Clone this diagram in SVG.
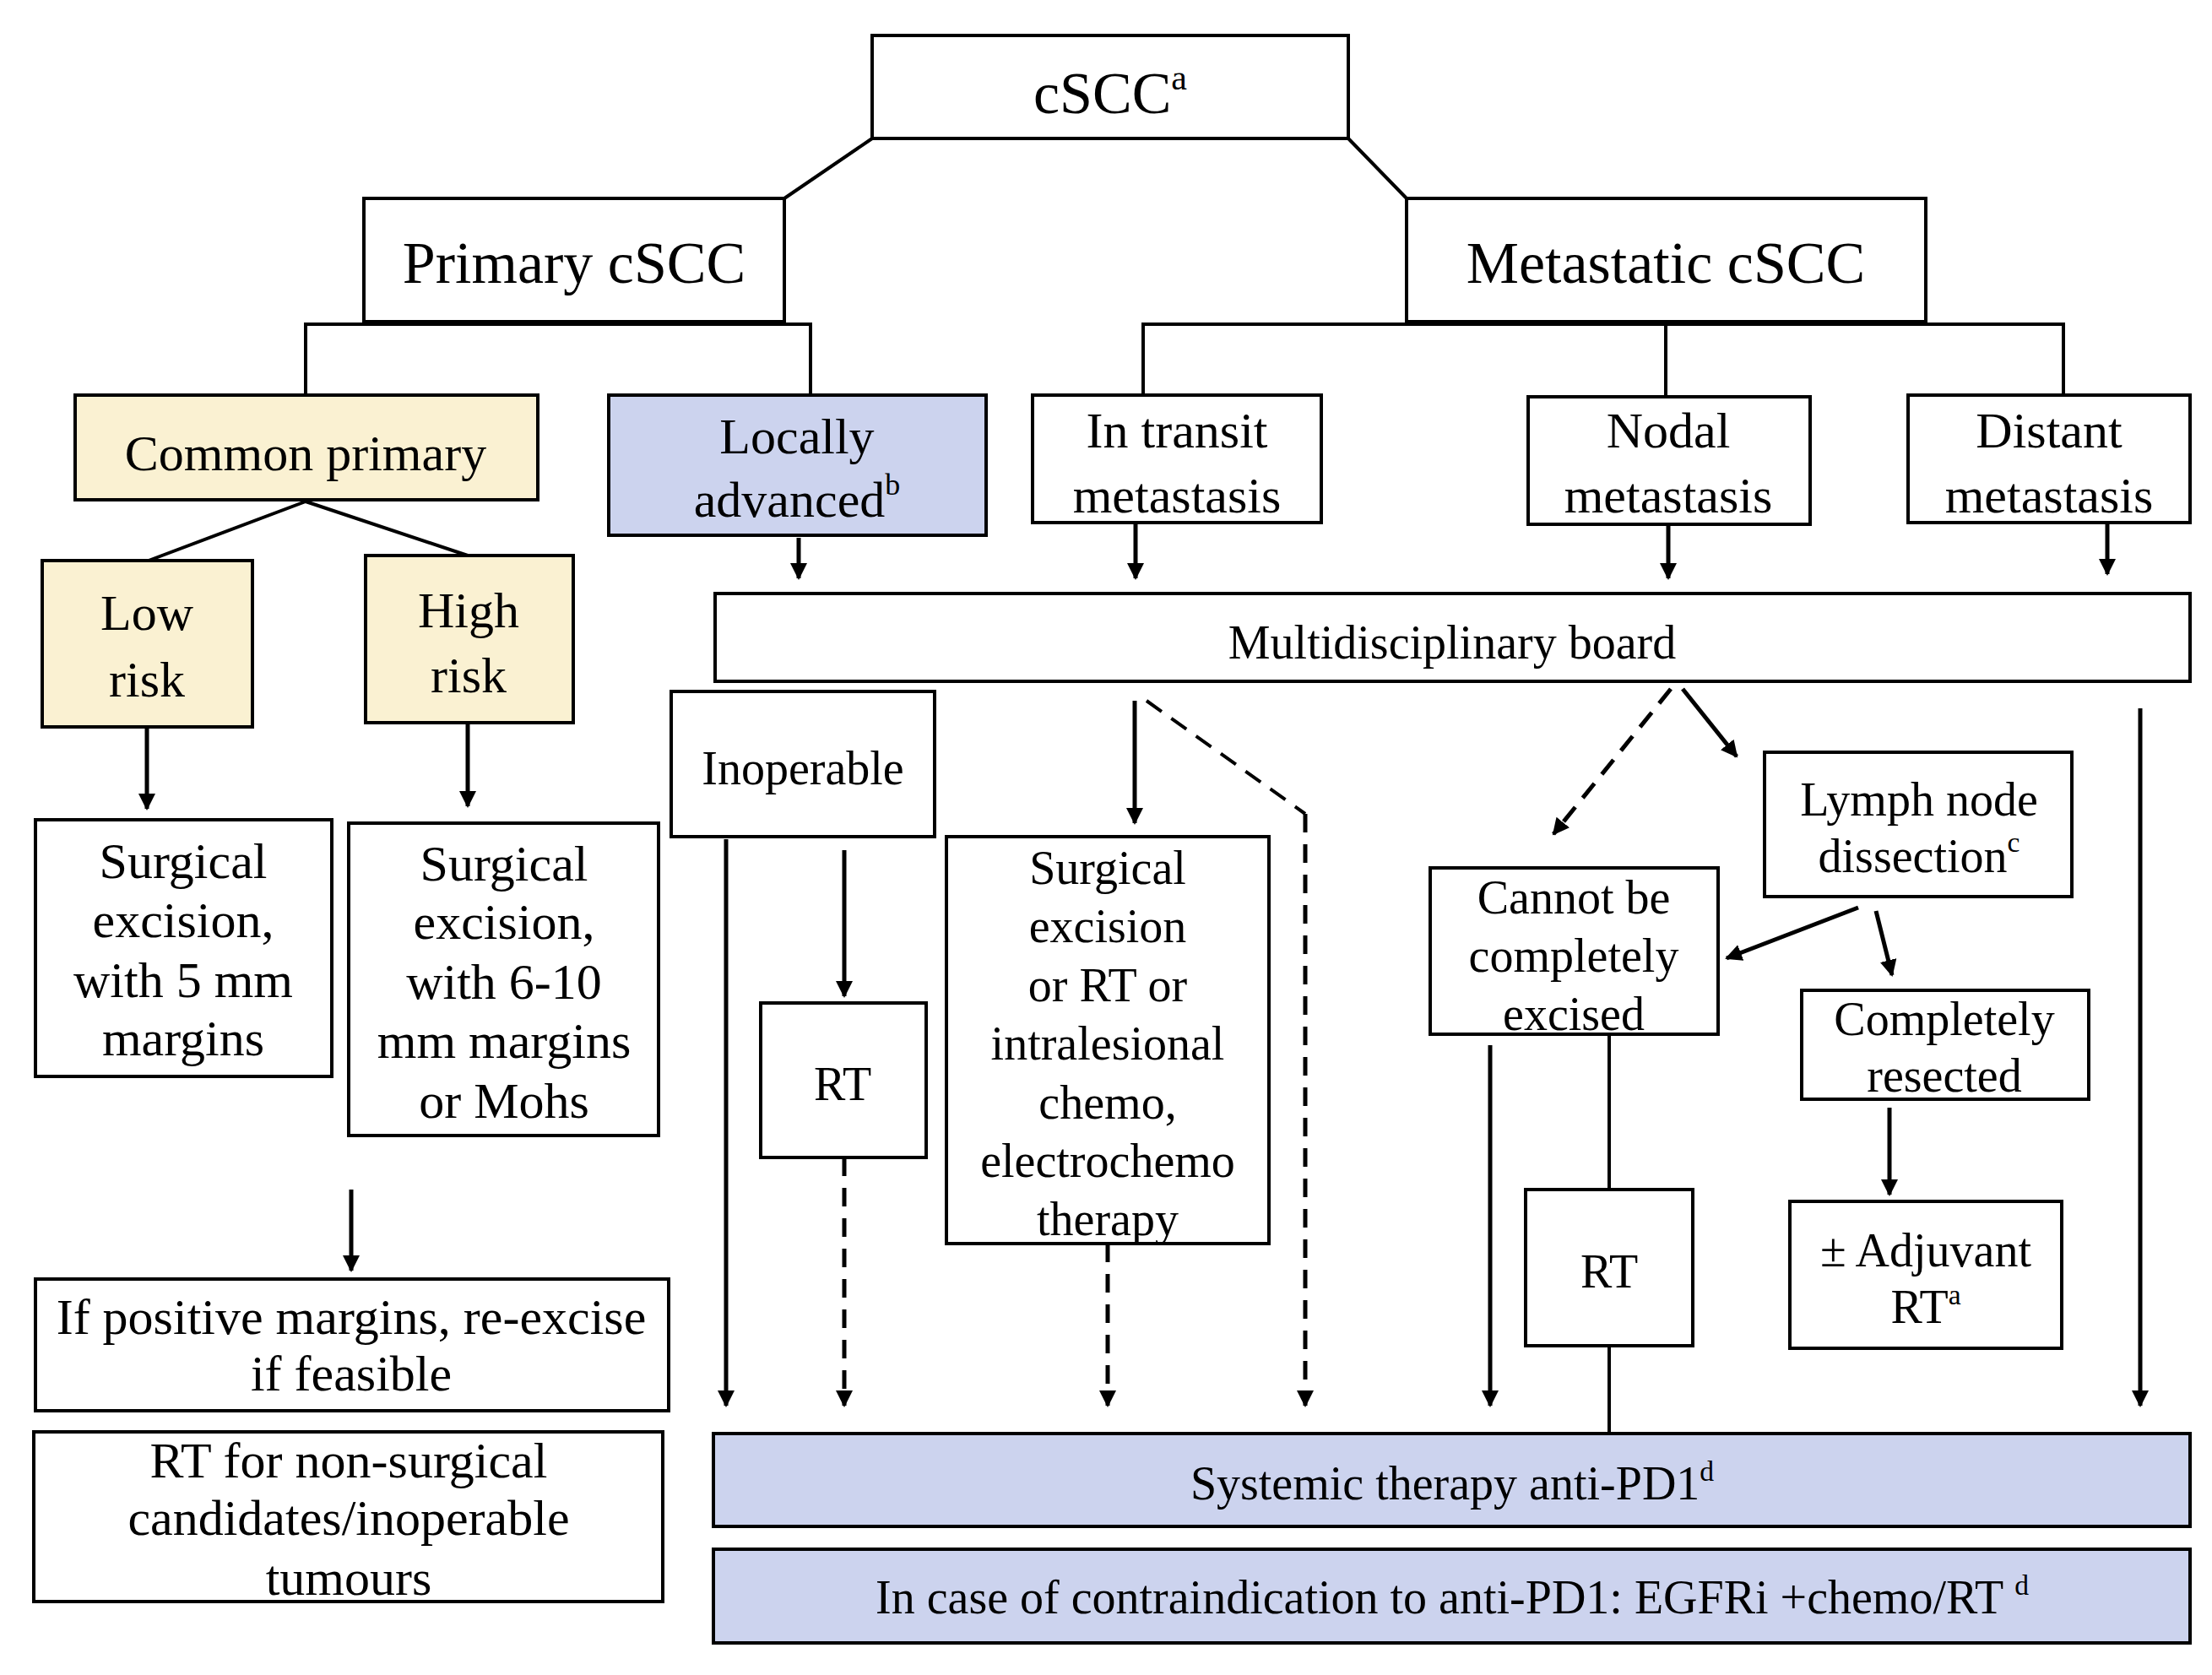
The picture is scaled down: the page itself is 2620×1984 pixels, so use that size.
<svg xmlns="http://www.w3.org/2000/svg" width="2620" height="1984" viewBox="0 0 2620 1984">
<defs>
<marker id="ah" viewBox="0 0 10 10" refX="9" refY="5" markerWidth="4" markerHeight="4" orient="auto" markerUnits="strokeWidth"><path d="M0,0 L10,5 L0,10 z" fill="#000"/></marker>
<style>
rect{fill:#fff;stroke:#000;stroke-width:4}
.y{fill:#faf1d2}.b{fill:#ccd3ee}
text{font-family:"Liberation Serif","Times New Roman",serif;font-size:60px;text-anchor:middle;fill:#000}
.big{font-size:70px}.m{font-size:56px}
.l{fill:none;stroke:#000;stroke-width:4}
.a{fill:none;stroke:#000;stroke-width:5;marker-end:url(#ah)}
.d{stroke-dasharray:22 14}
tspan.s{font-size:60%}
</style>
</defs>
<rect width="2620" height="1984" style="fill:#fff;stroke:none"/>
<g id="connectors">
<path class="l" d="M1033,164 L929,235 M1597,164 L1666,235"/>
<path class="l" d="M362,468 V384 H960 V468"/>
<path class="l" d="M1354,468 V384 H2444 V468 M1973,384 V470"/>
<path class="l" d="M362,594 L176,664 M362,594 L554,658"/>
<path class="a" d="M174,861 V958"/>
<path class="a" d="M554,856 V955"/>
<path class="a" d="M416,1409 V1505"/>
<path class="a" d="M946,637 V685"/>
<path class="a" d="M1345,619 V685"/>
<path class="a" d="M1976,621 V685"/>
<path class="a" d="M2496,619 V680"/>
<path class="a" d="M860,994 V1665"/>
<path class="a" d="M1000,1007 V1180"/>
<path class="a d" d="M1000,1371 V1665"/>
<path class="a" d="M1344,830 V975"/>
<path class="a d" d="M1312,1473 V1665"/>
<path class="l d" d="M1358,830 L1546,964"/>
<path class="a d" d="M1546,964 V1665"/>
<path class="a d" d="M1979,816 L1840,988"/>
<path class="a" d="M1993,816 L2057,896"/>
<path class="a" d="M2201,1075 L2045,1135"/>
<path class="a" d="M2222,1079 L2241,1155"/>
<path class="a" d="M2238,1312 V1415"/>
<path class="a" d="M1765,1238 V1665"/>
<path class="l" d="M1906,1225 V1409 M1906,1594 V1698"/>
<path class="a" d="M2535,839 V1665"/>
</g>
<g id="cscc"><rect x="1033" y="42" width="564" height="122"/><text class="big" x="1315" y="134">cSCC<tspan class="s" dy="-28">a</tspan></text></g>
<g id="primary"><rect x="431" y="235" width="498" height="146"/><text class="big" x="680" y="335">Primary cSCC</text></g>
<g id="metastatic"><rect x="1666" y="235" width="615" height="146"/><text class="big" x="1973" y="335">Metastatic cSCC</text></g>
<g id="common"><rect class="y" x="89" y="468" width="548" height="124"/><text x="362" y="557">Common primary</text></g>
<g id="locally"><rect class="b" x="721" y="468" width="447" height="166"/><text x="944" y="537">Locally</text><text x="944" y="612">advanced<tspan class="s" dy="-26">b</tspan></text></g>
<g id="intransit"><rect x="1223" y="468" width="342" height="151"/><text x="1394" y="530">In transit</text><text x="1394" y="607">metastasis</text></g>
<g id="nodal"><rect x="1810" y="470" width="334" height="151"/><text x="1976" y="530">Nodal</text><text x="1976" y="607">metastasis</text></g>
<g id="distant"><rect x="2260" y="468" width="334" height="151"/><text x="2427" y="530">Distant</text><text x="2427" y="607">metastasis</text></g>
<g id="low"><rect class="y" x="50" y="664" width="249" height="197"/><text x="174" y="746">Low</text><text x="174" y="825">risk</text></g>
<g id="high"><rect class="y" x="433" y="658" width="246" height="198"/><text x="555" y="743">High</text><text x="555" y="820">risk</text></g>
<g id="surg5"><rect x="42" y="971" width="351" height="304"/><text x="217" y="1040">Surgical</text><text x="217" y="1110">excision,</text><text x="217" y="1181">with 5 mm</text><text x="217" y="1250">margins</text></g>
<g id="surg610"><rect x="413" y="975" width="367" height="370"/><text x="597" y="1043">Surgical</text><text x="597" y="1112">excision,</text><text x="597" y="1183">with 6-10</text><text x="597" y="1253">mm margins</text><text x="597" y="1324">or Mohs</text></g>
<g id="positive"><rect x="42" y="1515" width="750" height="156"/><text x="416" y="1580">If positive margins, re-excise</text><text x="416" y="1647">if feasible</text></g>
<g id="rtnon"><rect x="40" y="1696" width="745" height="201"/><text x="413" y="1750">RT for non-surgical</text><text x="413" y="1818">candidates/inoperable</text><text x="413" y="1889">tumours</text></g>
<g id="board"><rect x="847" y="703" width="1747" height="104"/><text class="m" x="1720" y="780">Multidisciplinary board</text></g>
<g id="inoperable"><rect x="795" y="819" width="312" height="172"/><text class="m" x="951" y="929">Inoperable</text></g>
<g id="rt1"><rect x="901" y="1188" width="196" height="183"/><text class="m" x="998" y="1303">RT</text></g>
<g id="surgex"><rect x="1121" y="991" width="382" height="482"/><text class="m" x="1312" y="1047">Surgical</text><text class="m" x="1312" y="1116">excision</text><text class="m" x="1312" y="1186">or RT or</text><text class="m" x="1312" y="1255">intralesional</text><text class="m" x="1312" y="1325">chemo,</text><text class="m" x="1312" y="1394">electrochemo</text><text class="m" x="1312" y="1463">therapy</text></g>
<g id="lymph"><rect x="2090" y="891" width="364" height="171"/><text class="m" x="2273" y="966">Lymph node</text><text class="m" x="2273" y="1033">dissection<tspan class="s" dy="-24">c</tspan></text></g>
<g id="cannot"><rect x="1694" y="1028" width="341" height="197"/><text class="m" x="1864" y="1082">Cannot be</text><text class="m" x="1864" y="1151">completely</text><text class="m" x="1864" y="1220">excised</text></g>
<g id="resected"><rect x="2134" y="1173" width="340" height="129"/><text class="m" x="2303" y="1226">Completely</text><text class="m" x="2303" y="1293">resected</text></g>
<g id="rt2"><rect x="1807" y="1409" width="198" height="185"/><text class="m" x="1906" y="1525">RT</text></g>
<g id="adjuvant"><rect x="2120" y="1423" width="322" height="174"/><text class="m" x="2281" y="1500">± Adjuvant</text><text class="m" x="2281" y="1567">RT<tspan class="s" dy="-22">a</tspan></text></g>
<g id="systemic"><rect class="b" x="845" y="1698" width="1749" height="110"/><text class="m" x="1720" y="1776">Systemic therapy anti-PD1<tspan class="s" dy="-22">d</tspan></text></g>
<g id="egfri"><rect class="b" x="845" y="1835" width="1749" height="111"/><text class="m" x="1720" y="1911">In case of contraindication to anti-PD1: EGFRi +chemo/RT <tspan class="s" dy="-22">d</tspan></text></g>
</svg>
